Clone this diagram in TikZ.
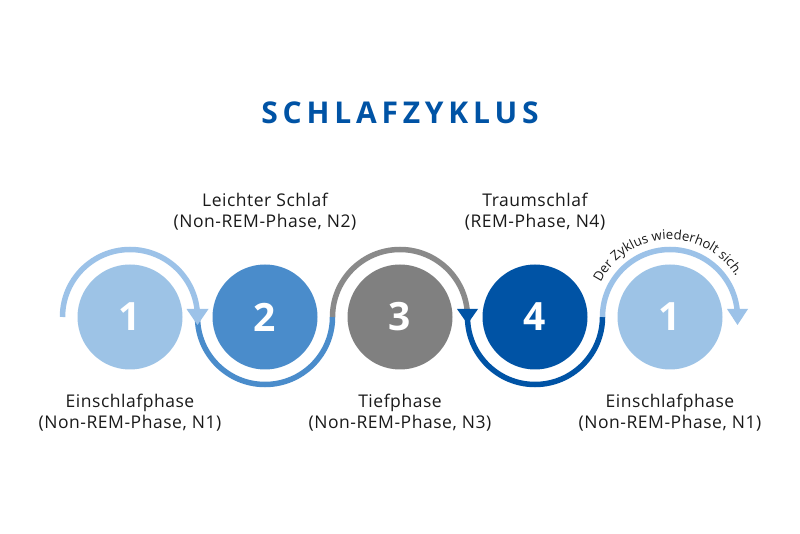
\documentclass[tikz,border=0pt]{standalone}
\usepackage{fontspec}
\setmainfont{Open Sans}
\usetikzlibrary{decorations.text}
\definecolor{cA}{HTML}{9DC3E6}
\definecolor{cAarc}{HTML}{9CC2E8}
\definecolor{cB}{HTML}{4A8CCB}
\definecolor{cC}{HTML}{808080}
\definecolor{cCarc}{HTML}{8A8A8A}
\definecolor{cD}{HTML}{0053A5}
\definecolor{txt}{HTML}{1A1A1A}
\newfontfamily\titlefont[LetterSpace=16]{Open Sans}
\newfontfamily\lblfont[LetterSpace=3]{Open Sans}
\tikzset{
  phase/.style={circle, minimum size=105pt, inner sep=0pt, text=white,
    font=\fontsize{39}{39}\selectfont\bfseries},
  ring/.style={line width=5.5pt},
  lbl/.style={align=center, inner sep=0pt, anchor=north, text=txt,
    font=\lblfont\fontsize{17.5}{21}\selectfont}
}
\begin{document}
\begin{tikzpicture}[x=1pt,y=1pt]
\useasboundingbox (0,0) rectangle (800,533);
\fill[white] (0,0) rectangle (800,533);

\node[anchor=base, text=cD, font=\titlefont\fontsize{30}{30}\selectfont\bfseries] (title) at (400,409) {SCHLAFZYKLUS};

\node[phase, fill=cA] (p1) at (130,216) {1};
\node[phase, fill=cB] (p2) at (265,216) {2};
\node[phase, fill=cC] (p3) at (400,216) {3};
\node[phase, fill=cD] (p4) at (535,216) {4};
\node[phase, fill=cA] (p5) at (670,216) {1};

% arcs
\draw[ring, cAarc] ([shift={(180:67.5)}]p1.center) arc[start angle=180, end angle=6, radius=67.5];
\draw[ring, cB] ([shift={(180:67.5)}]p2.center) arc[start angle=180, end angle=360, radius=67.5];
\draw[ring, cCarc] ([shift={(180:67.5)}]p3.center) arc[start angle=180, end angle=6, radius=67.5];
\draw[ring, cD] ([shift={(180:67.5)}]p4.center) arc[start angle=180, end angle=360, radius=67.5];
\draw[ring, cAarc] ([shift={(180:67.5)}]p5.center) arc[start angle=180, end angle=6, radius=67.5];

% arrowheads
\fill[cAarc] ([shift={(56.5,8)}]p1.center) -- ([shift={(78.5,8)}]p1.center) -- ([shift={(67.5,-8)}]p1.center) -- cycle;
\fill[cD] ([shift={(57,8)}]p3.center) -- ([shift={(78,8)}]p3.center) -- ([shift={(67.5,-7)}]p3.center) -- cycle;
\fill[cAarc] ([shift={(57,8)}]p5.center) -- ([shift={(78,8)}]p5.center) -- ([shift={(67.5,-8)}]p5.center) -- cycle;

% curved text
\path[postaction={decorate}, decoration={text along path, text align=center,
  text={|\fontsize{13.2}{13.2}\selectfont\color{txt}|Der Zyklus wiederholt sich.}}]
  ([shift={(162:77.5)}]p5.center) arc[start angle=162, end angle=23, radius=77.5];

% labels
\node[lbl] (l2) at (265,340) {Leichter Schlaf\\(Non-REM-Phase, N2)};
\node[lbl] (l4) at (535,340) {Traumschlaf\\(REM-Phase, N4)};
\node[lbl] (l1) at (130,139) {Einschlafphase\\(Non-REM-Phase, N1)};
\node[lbl] (l3) at (400,139) {Tiefphase\\(Non-REM-Phase, N3)};
\node[lbl] (l5) at (670,139) {Einschlafphase\\(Non-REM-Phase, N1)};
\end{tikzpicture}
\end{document}
